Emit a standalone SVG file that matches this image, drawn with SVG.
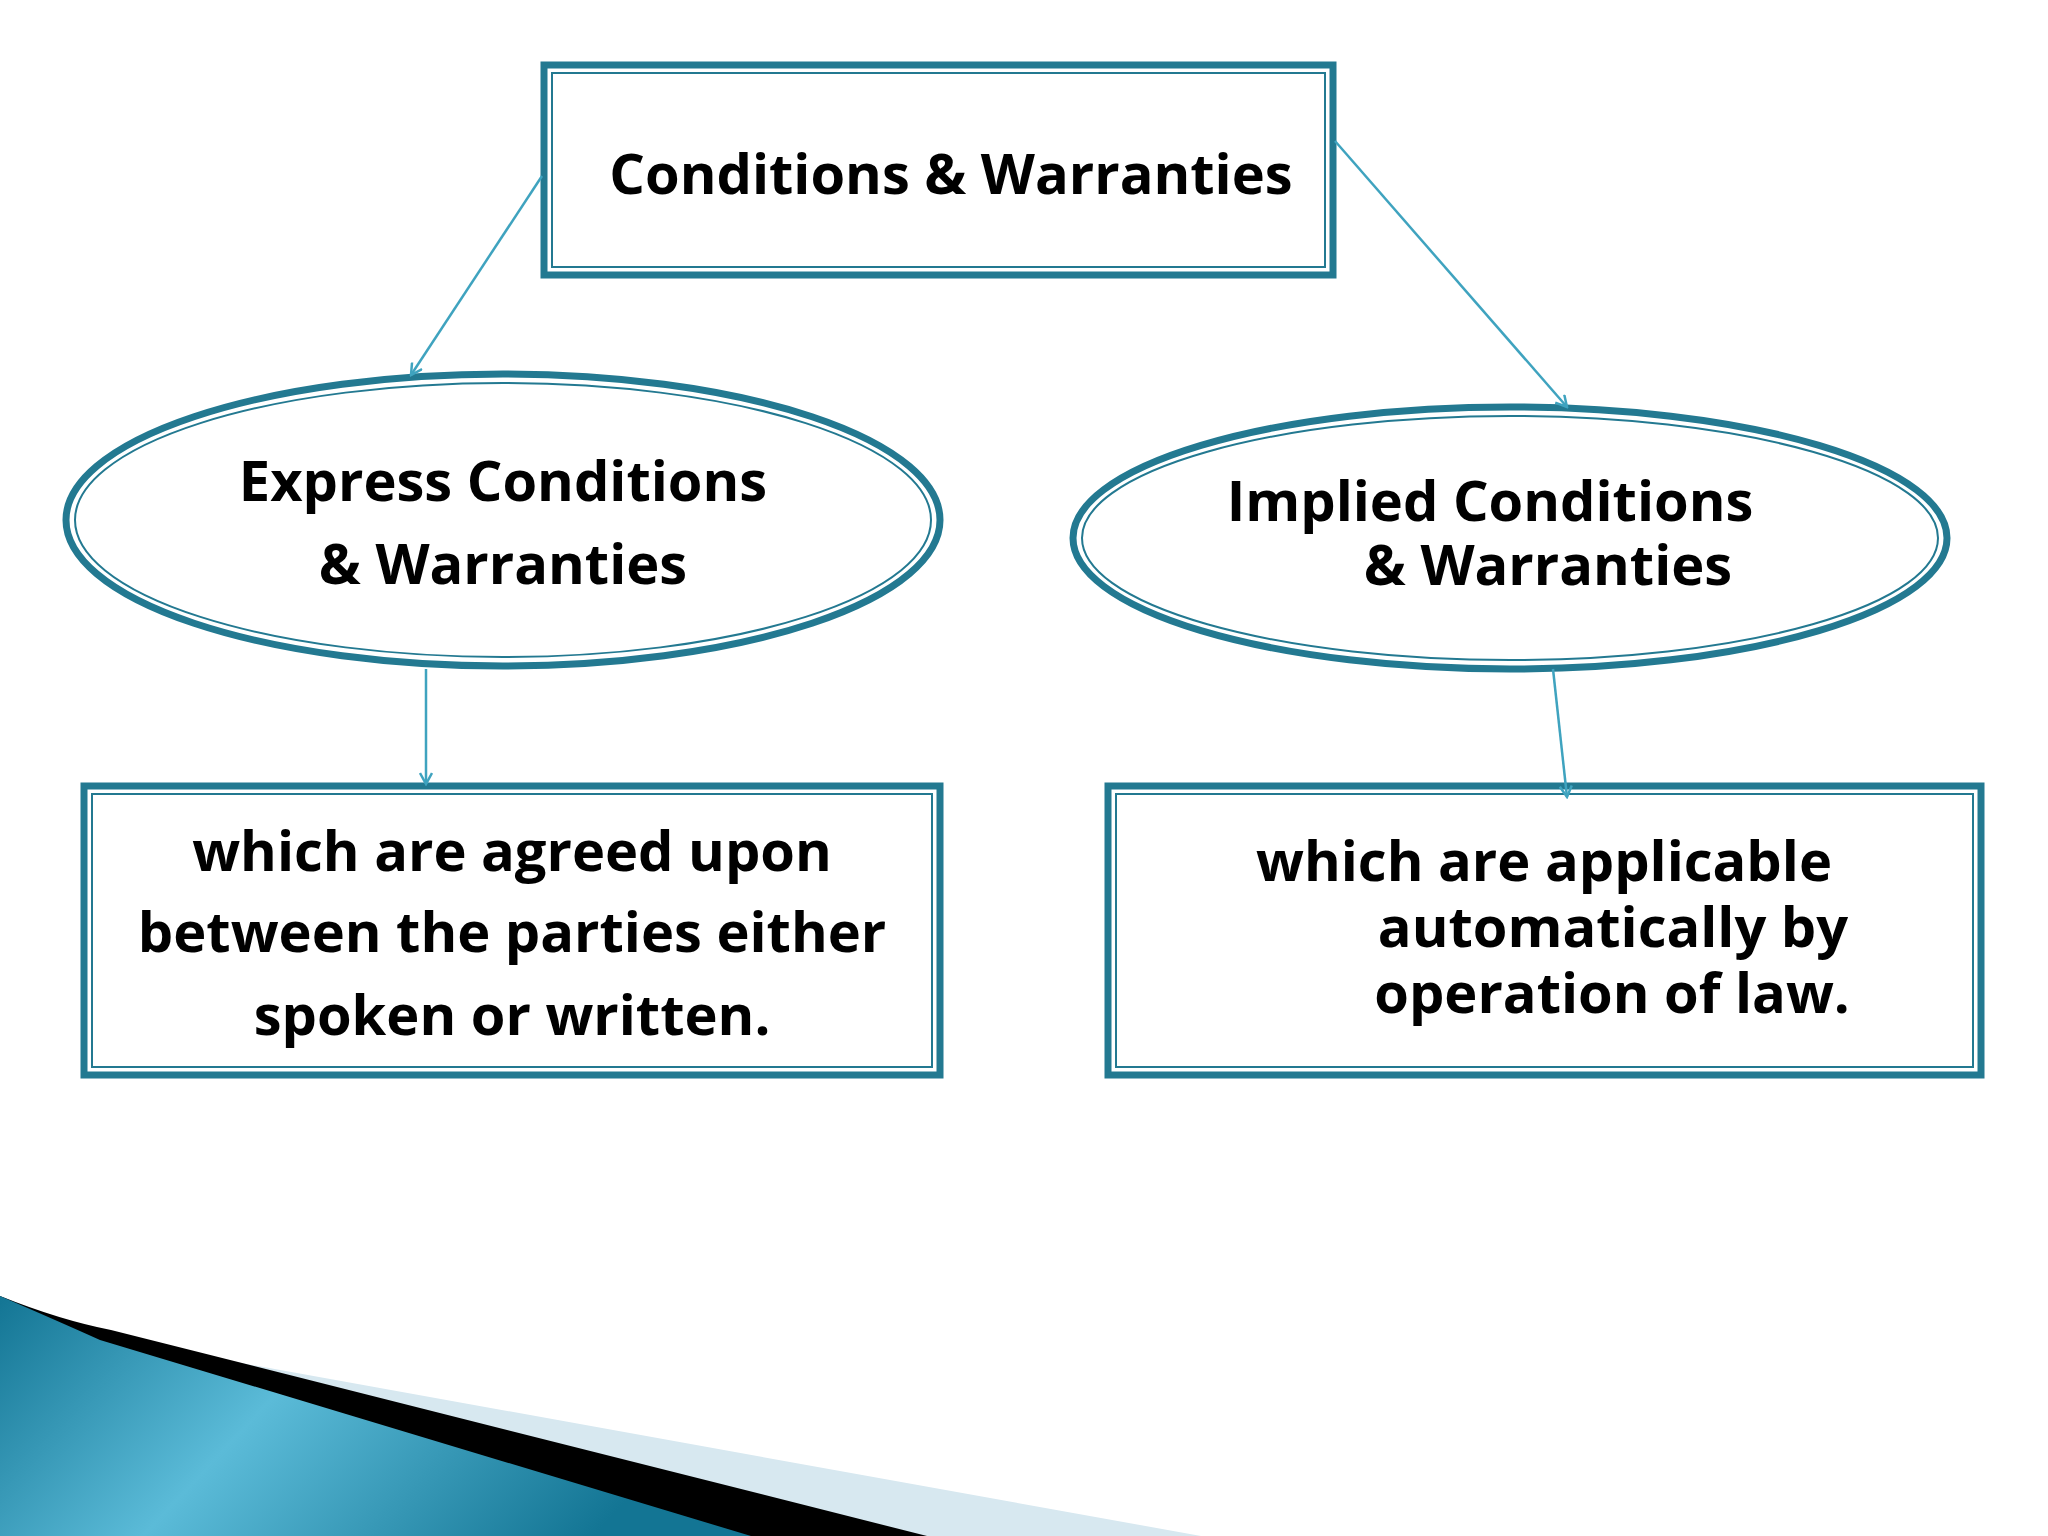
<svg xmlns="http://www.w3.org/2000/svg" width="2048" height="1536" viewBox="0 0 2048 1536">
<defs>
<style>
.o{fill:#fff;stroke:#237991;stroke-width:7}
.i{fill:none;stroke:#237991;stroke-width:2}
.t{font-family:"Open Sans","Liberation Sans",sans-serif;font-weight:bold;font-size:56px;fill:#000;text-anchor:middle}
.c{stroke:#3fa3bf;stroke-width:2.5;fill:none;marker-end:url(#a)}
</style>
<marker id="a" markerWidth="14" markerHeight="14" refX="12" refY="7" orient="auto" markerUnits="userSpaceOnUse"><path d="M1,1 L12,7 L1,13" fill="none" stroke="#3fa3bf" stroke-width="2.5"/></marker>
<linearGradient id="g" x1="0" y1="0" x2="1" y2="0.3"><stop offset="0" stop-color="#137594"/><stop offset="0.45" stop-color="#5bbbd8"/><stop offset="1" stop-color="#137594"/></linearGradient>
</defs>
<rect width="2048" height="1536" fill="#fff"/>
<g id="swoosh">
<path d="M0,1296 Q60,1320 130,1343 L1201,1536 L0,1536Z" fill="#d7e8f0"/>
<path d="M0,1296 Q60,1320 111,1330 L927,1536 L0,1536Z" fill="#000"/>
<path d="M0,1296 Q60,1322 100,1340 L751,1536 L0,1536Z" fill="url(#g)"/>
</g>
<g id="top">
<rect class="o" x="544" y="65" width="789" height="210"/>
<rect class="i" x="552" y="73" width="773" height="194"/>
<text class="t" x="951" y="194">Conditions &amp; Warranties</text>
</g>
<g id="express">
<ellipse class="o" cx="503" cy="520" rx="437" ry="146"/>
<ellipse class="i" cx="503" cy="520" rx="428" ry="137"/>
<text class="t" x="503" y="501">Express Conditions</text>
<text class="t" x="503" y="584">&amp; Warranties</text>
</g>
<g id="implied">
<ellipse class="o" cx="1510" cy="538" rx="437" ry="131"/>
<ellipse class="i" cx="1510" cy="538" rx="428" ry="122"/>
<text class="t" x="1490" y="521">Implied Conditions</text>
<text class="t" x="1548" y="585">&amp; Warranties</text>
</g>
<g id="expressDesc">
<rect class="o" x="84" y="786" width="856" height="289"/>
<rect class="i" x="92" y="794" width="840" height="273"/>
<text class="t" x="512" y="871">which are agreed upon</text>
<text class="t" x="512" y="952">between the parties either</text>
<text class="t" x="512" y="1035">spoken or written.</text>
</g>
<g id="impliedDesc">
<rect class="o" x="1108" y="786" width="873" height="289"/>
<rect class="i" x="1116" y="794" width="857" height="273"/>
<text class="t" x="1544" y="881">which are applicable</text>
<text class="t" x="1613" y="947">automatically by</text>
<text class="t" x="1612" y="1013">operation of law.</text>
</g>
<g id="connectors">
<line class="c" x1="542" y1="176" x2="411" y2="375"/>
<line class="c" x1="1335" y1="141" x2="1567" y2="407"/>
<line class="c" x1="426" y1="669" x2="426" y2="784"/>
<line class="c" x1="1553" y1="669" x2="1567" y2="797"/>
</g>
</svg>
